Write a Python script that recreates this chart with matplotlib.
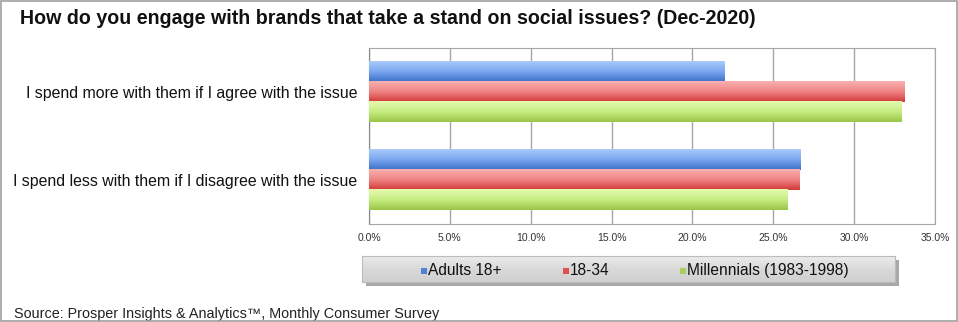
import numpy as np
import matplotlib
matplotlib.use("Agg")
import matplotlib.pyplot as plt
from matplotlib.colors import LinearSegmentedColormap
from matplotlib.patches import Rectangle

plt.rcParams['font.family'] = ['Liberation Sans', 'DejaVu Sans']

title = "How do you engage with brands that take a stand on social issues? (Dec-2020)"
categories = ["I spend more with them if I agree with the issue",
              "I spend less with them if I disagree with the issue"]
series_names = ["Adults 18+", "18-34", "Millennials (1983-1998)"]
adults = [22.0, 26.7]
age_18_34 = [33.1, 26.6]
millennials = [32.9, 25.9]
xticks = [0, 5, 10, 15, 20, 25, 30, 35]
source = "Source: Prosper Insights & Analytics\u2122, Monthly Consumer Survey"

series = [adults, age_18_34, millennials]
grads = [["#a9cbfa", "#7aa6ee", "#3a70cb"],
         ["#f9b0b0", "#f08484", "#d23a3a"],
         ["#e4fbae", "#c8ec84", "#98c646"]]
solid = ["#4f81d6", "#e05050", "#a6d05a"]

W, H = 958, 322
fig = plt.figure(figsize=(W / 100, H / 100), dpi=100)
fig.patch.set_facecolor("white")

def fx(px):
    return px / W

def fy(py):
    return 1 - py / H

# plot area
left, right, top, bottom = 369, 935, 48, 224
ax = fig.add_axes([fx(left), fy(bottom), fx(right - left), (bottom - top) / H])
n = len(categories)
bar_h = 0.228
ypos = np.arange(n)
for i, (vals, g) in enumerate(zip(series, grads)):
    offs = (i - 1) * bar_h
    bars = ax.barh(ypos + offs, vals, height=bar_h, color=solid[i], zorder=2)
    cmap = LinearSegmentedColormap.from_list("g%d" % i, g)
    for b in bars:
        x0, y0 = b.get_x(), b.get_y()
        w, h = b.get_width(), b.get_height()
        grad = np.linspace(0, 1, 64).reshape(-1, 1)
        ax.imshow(grad, cmap=cmap, aspect="auto", origin="upper",
                  extent=[x0, x0 + w, y0 + h, y0], zorder=3)

ax.set_xlim(0, 35)
ax.set_ylim(n - 0.5, -0.5)
ax.set_xticks(xticks)
ax.set_xticklabels(["%.1f%%" % t for t in xticks], fontsize=7.5, color="#333333")
ax.set_yticks(ypos)
ax.set_yticklabels(categories, fontsize=11.4, color="#111111")
ax.tick_params(axis="y", length=0, pad=8.5)
ax.tick_params(axis="x", length=0, pad=6.5)
ax.grid(axis="x", color="#a6a6a6", linewidth=1, zorder=0)
ax.set_axisbelow(True)
for s in ["top", "right", "bottom"]:
    ax.spines[s].set_color("#a6a6a6")
ax.spines["left"].set_color("#888888")

# title
fig.text(fx(20), fy(18), title, fontsize=14.1, fontweight="bold", va="center", ha="left", color="#111111")

# legend (manual box)
lx0, lx1, ly0, ly1 = 362, 895, 256, 282
shadow = Rectangle((fx(lx0 + 4), fy(ly1 + 4)), fx(lx1 - lx0), (ly1 - ly0) / H,
                   transform=fig.transFigure, facecolor="#a8a8a8", edgecolor="none", zorder=-1)
fig.patches.append(shadow)
lax = fig.add_axes([fx(lx0), fy(ly1), fx(lx1 - lx0), (ly1 - ly0) / H])
lax.set_zorder(5)
lcmap = LinearSegmentedColormap.from_list("lg", ["#ececec", "#d9d9d9", "#d0d0d0"])
lax.imshow(np.linspace(0, 1, 32).reshape(-1, 1), cmap=lcmap, aspect="auto",
           extent=[0, 1, 0, 1], origin="upper")
lax.set_xlim(0, 1)
lax.set_ylim(0, 1)
lax.set_xticks([])
lax.set_yticks([])
for s in lax.spines.values():
    s.set_color("#bbbbbb")
    s.set_linewidth(0.8)
marker_x = [421, 563, 680]
for name, c, mx in zip(series_names, solid, marker_x):
    lax.add_patch(Rectangle(((mx - lx0) / (lx1 - lx0), 0.3), 6 / (lx1 - lx0), 6 / (ly1 - ly0),
                            facecolor=c, edgecolor="none"))
    lax.text((mx + 7 - lx0) / (lx1 - lx0), 0.45, name, fontsize=11.2, va="center", ha="left",
             color="#111111")

# source (clipped at bottom by frame)
fig.text(fx(14), fy(318), source, fontsize=10.4, va="baseline", ha="left", color="#222222")
fig.patches.append(Rectangle((0, 0), 1, 1.5 / H, transform=fig.transFigure,
                             facecolor="white", edgecolor="none", zorder=10))

# outer frame
frame = Rectangle((fx(0.5), fy(320.5)), fx(W - 1.5), (320) / H, transform=fig.transFigure,
                  facecolor="none", edgecolor="#a0a0a0", linewidth=1.2, zorder=11)
fig.patches.append(frame)

fig.savefig("out.png", dpi=100)
